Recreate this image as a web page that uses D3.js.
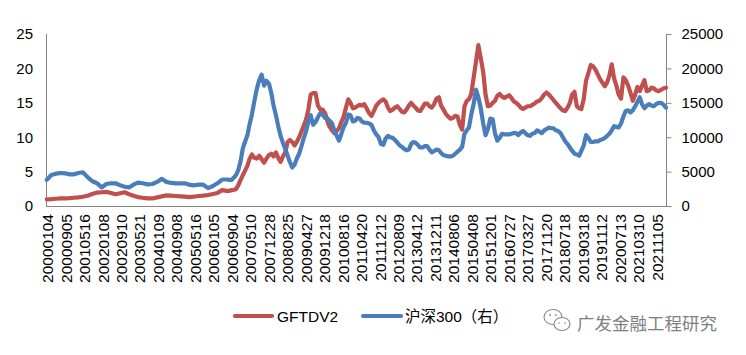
<!DOCTYPE html>
<html><head><meta charset="utf-8">
<script src="https://cdn.jsdelivr.net/npm/d3@7"></script>
<style>
html,body{margin:0;padding:0;background:#fff;}
svg{display:block;font-family:"Liberation Sans",Arial,sans-serif;}
</style>
</head><body>
<svg id="chart" width="746" height="355"></svg>
<script>
// ---------- DATA ----------
const tickLabels = ["20000104","20000905","20010516","20020108","20020910","20030521","20040109","20040908","20050516","20060105","20060904","20070510","20071228","20080825","20090427","20091218","20100816","20110420","20111212","20120809","20130412","20131211","20140806","20150408","20151201","20160727","20170327","20171120","20180718","20190318","20191112","20200713","20210310","20211105"];
const endDate = "20220301";

const dates = [
"2000-01","2000-03","2000-05","2000-07","2000-09","2000-11",
"2001-01","2001-03","2001-05","2001-07","2001-09","2001-11",
"2002-01","2002-03","2002-05","2002-07","2002-09","2002-11",
"2003-01","2003-03","2003-05","2003-07","2003-09","2003-11",
"2004-01","2004-03","2004-05","2004-07","2004-09","2004-11",
"2005-01","2005-03","2005-05","2005-07","2005-09","2005-11",
"2006-01","2006-03","2006-05",
"2006-07","2006-08","2006-09","2006-10","2006-11","2006-12",
"2007-01","2007-02","2007-03","2007-04","2007-05","2007-06","2007-07","2007-08","2007-09","2007-10","2007-11","2007-12",
"2008-01","2008-02","2008-03","2008-04","2008-05","2008-06","2008-07","2008-08","2008-09","2008-10","2008-11","2008-12",
"2009-01","2009-02","2009-03","2009-04","2009-05","2009-06","2009-07","2009-08","2009-09","2009-10","2009-11","2009-12",
"2010-01","2010-02","2010-03","2010-04","2010-05","2010-06","2010-07","2010-08","2010-09","2010-10","2010-11","2010-12",
"2011-01","2011-02","2011-03","2011-04","2011-05","2011-06","2011-07","2011-08","2011-09","2011-10","2011-11","2011-12",
"2012-01","2012-02","2012-03","2012-04","2012-05","2012-06","2012-07","2012-08","2012-09","2012-10","2012-11","2012-12",
"2013-01","2013-02","2013-03","2013-04","2013-05","2013-06","2013-07","2013-08","2013-09","2013-10","2013-11","2013-12",
"2014-01","2014-02","2014-03","2014-04","2014-05","2014-06","2014-07","2014-08","2014-09","2014-10","2014-11","2014-12",
"2015-01","2015-02","2015-03","2015-04","2015-05","2015-06","2015-07","2015-08","2015-09","2015-10","2015-11","2015-12",
"2016-01","2016-02","2016-03","2016-04","2016-05","2016-06","2016-07","2016-08","2016-09","2016-10","2016-11","2016-12",
"2017-01","2017-02","2017-03","2017-04","2017-05","2017-06","2017-07","2017-08","2017-09","2017-10","2017-11","2017-12",
"2018-01","2018-02","2018-03","2018-04","2018-05","2018-06","2018-07","2018-08","2018-09","2018-10","2018-11","2018-12",
"2019-01","2019-02","2019-03","2019-04","2019-05","2019-06","2019-07","2019-08","2019-09","2019-10","2019-11","2019-12",
"2020-01","2020-02","2020-03","2020-04","2020-05","2020-06","2020-07","2020-08","2020-09","2020-10","2020-11","2020-12",
"2021-01","2021-02","2021-03","2021-04","2021-05","2021-06","2021-07","2021-08","2021-09","2021-10","2021-11","2021-12",
"2022-01","2022-02","2022-03"
];

// GFTDV2 (left axis)
const gftdv2 = [
0.97,1.0,1.05,1.1,1.12,1.15,
1.2,1.25,1.35,1.5,1.75,1.95,
2.0,2.05,1.9,1.7,1.85,2.0,
1.7,1.5,1.3,1.2,1.12,1.1,
1.25,1.4,1.55,1.5,1.45,1.4,
1.35,1.3,1.35,1.45,1.5,1.6,
1.75,1.9,2.3,
2.2,2.2,2.3,2.35,2.45,3.0,
3.8,4.5,5.1,5.8,6.8,7.5,7.0,6.9,7.3,6.8,6.3,6.9,
7.4,7.6,7.2,7.8,7.0,6.4,7.2,7.8,9.3,9.6,9.3,8.8,
9.3,10.0,10.8,11.6,12.5,14.0,16.2,16.4,16.4,14.6,14.0,14.0,
13.5,12.3,11.5,11.0,10.6,10.9,11.3,12.2,13.0,14.3,15.5,15.0,
14.2,14.3,14.5,14.7,14.6,14.8,14.2,13.5,13.1,13.8,14.6,15.0,
15.3,15.5,15.2,14.3,13.8,14.0,14.3,14.5,14.1,13.7,13.6,14.0,
14.6,15.0,14.6,14.3,13.9,13.8,14.3,14.9,14.9,14.5,14.3,14.8,
15.6,15.8,14.6,14.0,13.4,13.0,12.7,12.8,13.1,13.0,11.8,11.1,
14.5,15.3,15.5,16.3,18.6,21.0,23.4,21.5,19.5,16.2,14.5,14.6,
15.0,15.3,16.0,16.3,15.9,15.7,15.9,16.1,15.7,15.2,15.0,14.7,
14.3,14.1,14.3,14.5,14.5,14.7,14.9,15.2,15.3,15.7,16.2,16.5,
16.2,15.8,15.4,15.0,14.6,14.2,13.9,13.8,14.3,15.0,16.2,16.6,
14.5,14.2,14.1,15.5,18.2,19.3,20.5,20.3,19.8,19.1,18.4,17.9,
17.4,18.0,19.0,20.6,18.6,17.5,16.2,15.6,18.7,18.3,17.5,16.5,
15.3,16.2,17.3,16.7,17.5,18.3,16.7,16.8,17.2,17.1,16.8,16.7,
16.9,17.1,17.2
];

// 沪深300 (right axis)
const hs300 = [
3800,4500,4700,4800,4750,4600,
4600,4800,4900,4200,3600,3300,
2700,3200,3300,3300,3000,2800,
2700,3100,3400,3300,3150,3200,
3500,3950,3500,3350,3300,3300,
3300,3100,3000,3100,3100,2600,
2900,3300,3850,
3850,3800,3800,4100,4500,5200,
6500,8400,9300,10200,11800,13300,15200,17000,18300,19100,17500,18200,
17800,16400,14600,13200,11600,10200,9200,8300,7300,6400,5600,6000,
6900,7600,8600,9800,10800,12200,13200,11800,12200,12900,13500,13300,
12800,12700,12400,12000,11000,10200,9500,10500,11500,12100,13300,13200,
12300,12400,12800,12700,12300,12100,12100,12000,11800,11000,10400,10000,
9000,8900,9800,10200,10000,9900,9600,9200,8800,8600,8300,8100,
8200,9000,9300,9200,8900,8500,8500,8700,8700,8200,7800,8000,
8200,8100,7700,7400,7300,7200,7200,7300,7600,7900,8200,8600,
10500,11000,11400,13300,14800,16900,15800,14200,12000,10300,11200,12700,
12600,10500,9500,9900,10500,10400,10400,10400,10500,10600,10600,10300,
10700,10900,10600,10300,10200,10500,10600,11000,10800,10600,11000,11200,
11400,11300,11300,11000,10900,10600,10000,9400,9000,8500,8000,7600,
7500,7300,8000,8800,10300,9900,9300,9300,9400,9400,9600,9700,
9900,10200,10500,11000,11600,11500,11400,12000,13000,13800,13900,13600,
13900,14500,15100,15800,14800,14200,14600,14800,14600,14500,14800,15000,
15000,14700,14300
];

const leftTicks = [0,5,10,15,20,25];
const rightTicks = [0,5000,10000,15000,20000,25000];
const seriesNames = ["GFTDV2","沪深300（右）"];
const watermark = "广发金融工程研究";

// ---------- CHART ----------
const svg = d3.select("#chart");
svg.append("rect").attr("width",746).attr("height",355).attr("fill","#fff");

const plotL = 46, plotR = 666, plotT = 34, plotB = 206;
const firstX = 47, lastX = 656.5;
const step = (lastX - firstX) / (tickLabels.length - 1);
const parseT = d3.timeParse("%Y%m%d");
const parseM = d3.timeParse("%Y-%m");
const tickDates = tickLabels.map(parseT);

const x = d3.scaleTime()
  .domain(tickDates.concat([parseT(endDate)]))
  .range(tickDates.map((d,i)=>firstX + i*step).concat([plotR]));
const yL = d3.scaleLinear().domain([0,25]).range([plotB, plotT]);
const yR = d3.scaleLinear().domain([0,25000]).range([plotB, plotT]);

const axisColor = "#868686";

// axis lines
svg.append("line").attr("x1",plotL+0.5).attr("x2",plotL+0.5).attr("y1",plotT).attr("y2",plotB).attr("stroke",axisColor);
svg.append("line").attr("x1",plotR+0.5).attr("x2",plotR+0.5).attr("y1",plotT).attr("y2",plotB).attr("stroke",axisColor);
svg.append("line").attr("x1",plotL).attr("x2",plotR+1).attr("y1",plotB+0.5).attr("y2",plotB+0.5).attr("stroke",axisColor);

// left axis
const gL = svg.append("g").attr("transform",`translate(${plotL},0)`)
  .call(d3.axisLeft(yL).tickValues(leftTicks).tickSize(0).tickPadding(13).tickFormat(d3.format("d")));
gL.select(".domain").remove();
gL.selectAll("text").attr("font-size","15px").attr("fill","#000").attr("font-family","'Liberation Sans',Arial,sans-serif");

// right axis
const gR = svg.append("g").attr("transform",`translate(${plotR+0.5},0)`)
  .call(d3.axisRight(yR).tickValues(rightTicks).tickSize(5).tickPadding(10).tickFormat(d3.format("d")));
gR.select(".domain").remove();
gR.selectAll("line").attr("stroke",axisColor);
gR.selectAll("text").attr("font-size","15px").attr("fill","#000").attr("font-family","'Liberation Sans',Arial,sans-serif");

// bottom axis
const gB = svg.append("g").attr("transform",`translate(0,${plotB})`)
  .call(d3.axisBottom(x).tickValues(tickDates).tickSize(0).tickFormat(d3.timeFormat("%Y%m%d")));
gB.select(".domain").remove();
gB.selectAll("text")
  .attr("transform","rotate(-90)")
  .attr("text-anchor","end")
  .attr("x",-8).attr("y",0).attr("dy","0.36em")
  .attr("font-size","15.5px").attr("fill","#000").attr("font-family","'Liberation Sans',Arial,sans-serif");

// series
const rows = dates.map((d,i)=>({date:parseM(d), a:gftdv2[i], b:hs300[i]}));
const redC = "#C0504D", blueC = "#4A7EBB";

svg.append("path").datum(rows)
  .attr("fill","none").attr("stroke",redC).attr("stroke-width",4.2)
  .attr("stroke-linejoin","round").attr("stroke-linecap","round")
  .attr("d", d3.line().x(d=>x(d.date)).y(d=>yL(d.a)));
svg.append("path").datum(rows)
  .attr("fill","none").attr("stroke",blueC).attr("stroke-width",4.2)
  .attr("stroke-linejoin","round").attr("stroke-linecap","round")
  .attr("d", d3.line().x(d=>x(d.date)).y(d=>yR(d.b)));

// legend
const lg = svg.append("g");
lg.append("line").attr("x1",235).attr("x2",272).attr("y1",316).attr("y2",316).attr("stroke",redC).attr("stroke-width",4.2).attr("stroke-linecap","round");
lg.append("text").attr("x",277).attr("y",321.5).attr("font-size","15.5px").attr("fill","#000").text(seriesNames[0]);
lg.append("line").attr("x1",363).attr("x2",401).attr("y1",316).attr("y2",316).attr("stroke",blueC).attr("stroke-width",4.2).attr("stroke-linecap","round");
lg.append("text").attr("x",405).attr("y",321.5).attr("font-size","15.5px").attr("fill","#000")
  .attr("font-family","'Liberation Sans','Noto Sans CJK SC',sans-serif").text(seriesNames[1]);

// watermark
const wm = svg.append("g").attr("fill","none").attr("stroke","#8a8a8a").attr("stroke-width",1.1);
wm.append("ellipse").attr("cx",553).attr("cy",317).attr("rx",9).attr("ry",7.5);
wm.append("ellipse").attr("cx",562).attr("cy",324).attr("rx",8).attr("ry",6.5).attr("fill","#fff");
wm.append("circle").attr("cx",550).attr("cy",315).attr("r",0.9).attr("fill","#8a8a8a").attr("stroke","none");
wm.append("circle").attr("cx",556).attr("cy",315).attr("r",0.9).attr("fill","#8a8a8a").attr("stroke","none");
wm.append("circle").attr("cx",559).attr("cy",323).attr("r",0.8).attr("fill","#8a8a8a").attr("stroke","none");
wm.append("circle").attr("cx",565).attr("cy",323).attr("r",0.8).attr("fill","#8a8a8a").attr("stroke","none");
svg.append("text").attr("x",577).attr("y",330).attr("font-size","17.5px").attr("fill","#7f7f7f")
  .attr("font-family","'Noto Sans CJK SC',sans-serif").text(watermark);
</script>
</body></html>
